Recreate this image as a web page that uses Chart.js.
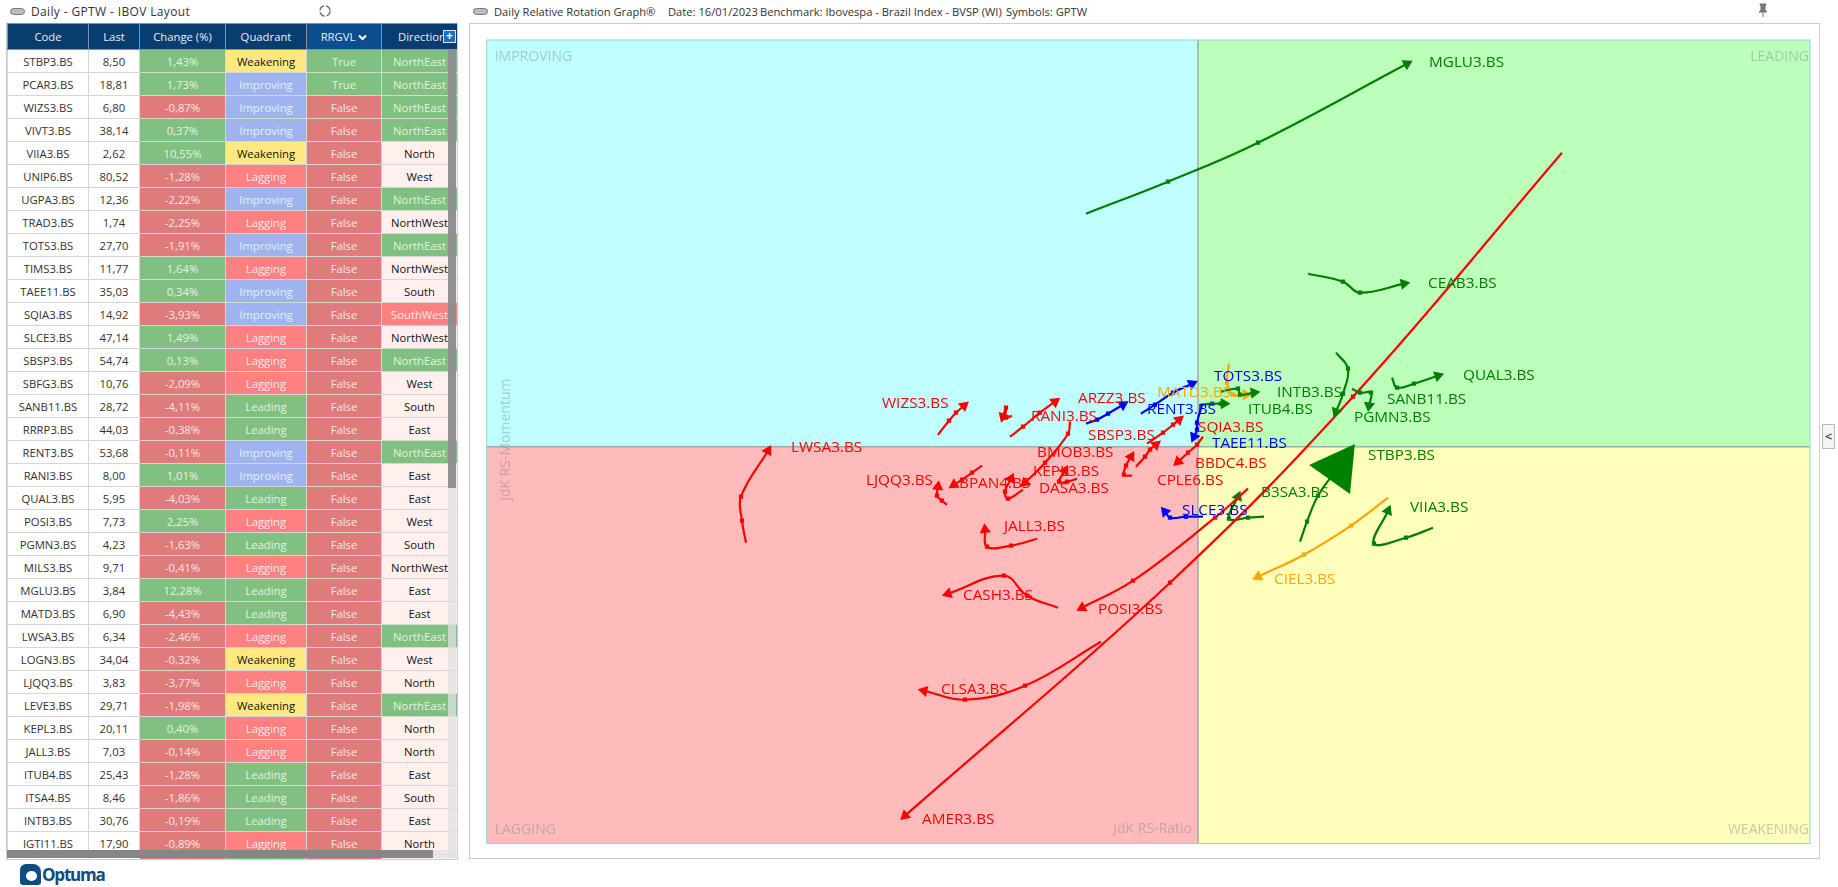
<!DOCTYPE html>
<html>
<head>
<meta charset="utf-8">
<title>Daily Relative Rotation Graph</title>
<script src="https://cdn.jsdelivr.net/npm/chart.js@4/dist/chart.umd.min.js"></script>
<style>
  html, body { margin: 0; padding: 0; background: #fff; width: 1838px; height: 887px; overflow: hidden; font-family: "Open Sans", sans-serif; }
  .title { position: absolute; top: 3px; font-size: 11.2px; line-height: 18px; color: #333; white-space: pre; }
  .chain { position: absolute; top: 8px; width: 13px; height: 5px; border: 1.5px solid #777; border-radius: 4px; background: #bbb; }
  #tableWrap { position: absolute; left: 6px; top: 23px; width: 450px; height: 836px; overflow: hidden; border-right: 1px solid #ccc; border-bottom: 1px solid #ccc; border-left: 1px solid #ccc; }
  table { border-collapse: collapse; table-layout: fixed; width: 450px; font-size: 11.3px; }
  th { background: #0a3d6f; color: #e8eef5; font-weight: 400; height: 25px; padding: 0; border: 1px solid #7f93a8; white-space: nowrap; overflow: hidden; }
  th.sorted { background: #0b4f8f; }
  td { height: 22px; padding: 0; text-align: center; border: 1px solid #d6d6d6; color: #333; white-space: nowrap; overflow: hidden; }
  td.up, td.Leading, td.True, td.NorthEast { background: #80c080; color: #e4f3e0; }
  td.down, td.False { background: #e07b7b; color: #fbe6e6; }
  td.Improving { background: #9fb4ee; color: #e8eefc; }
  td.Lagging, td.SouthWest { background: #ff8080; color: #ffeaea; }
  td.Weakening { background: #ffe880; color: #111; }
  td.calm { background: #fff0ee; color: #111; }
  #plusBtn { position: absolute; left: 443px; top: 30px; width: 11px; height: 11px; background: #1c6fc0; border: 1px solid #d8e6f5; color: #fff; font: 700 12px/10px "Open Sans"; text-align: center; }
  #vTrack { position: absolute; left: 448px; top: 50px; width: 8px; height: 808px; background: rgba(225,225,225,.75); }
  #vThumb { position: absolute; left: 448px; top: 50px; width: 8px; height: 438px; background: rgba(130,130,130,.85); }
  #hTrack { position: absolute; left: 7px; top: 850px; width: 449px; height: 8px; background: rgba(225,225,225,.75); }
  #hThumb { position: absolute; left: 7px; top: 850px; width: 426px; height: 8px; background: rgba(130,130,130,.95); }
  #logoMark { position: absolute; left: 20px; top: 864px; width: 21px; height: 21px; background: #0f4c81; border-radius: 6px 8px 3px 3px; }
  #logoMark:after { content: ""; position: absolute; left: 6px; top: 7px; width: 11px; height: 10px; background: #fff; border-radius: 50%; }
  #logoText { position: absolute; left: 42px; top: 863px; font-size: 17px; line-height: 24px; font-weight: 700; color: #0f4c81; letter-spacing: -1.2px; }
  #panel { position: absolute; left: 469px; top: 23px; width: 1351px; height: 836px; box-sizing: border-box; border: 1px solid #ccc; }
  #chartBox { position: absolute; left: 470px; top: 24px; width: 1349px; height: 834px; }
  #sideTab { position: absolute; left: 1822px; top: 424px; width: 11px; height: 23px; border: 1px solid #bbb; background: #f4f4f4; color: #555; font: 700 13px/22px "Open Sans"; text-align: center; }
</style>
</head>
<body>
<div class="chain" style="left:10px"></div>
<div class="title" style="left:31px;font-size:12px;letter-spacing:.36px">Daily - GPTW - IBOV Layout</div>
<svg style="position:absolute;left:318px;top:4px" width="14" height="14" viewBox="0 0 14 14"><circle cx="7" cy="7" r="5" fill="none" stroke="#777" stroke-width="1.5" stroke-dasharray="6 2"/></svg>
<div id="tableWrap"></div>
<div id="plusBtn">+</div>
<div id="vTrack"></div><div id="vThumb"></div>
<div id="hTrack"></div><div id="hThumb"></div>
<div id="logoMark"></div>
<div id="logoText">Optuma</div>

<div class="chain" style="left:473px"></div>
<div class="title" style="left:494px">Daily Relative Rotation Graph®</div>
<div class="title" style="left:668px">Date: 16/01/2023</div>
<div class="title" style="left:760px">Benchmark: Ibovespa - Brazil Index - BVSP (WI)</div>
<div class="title" style="left:1006px">Symbols: GPTW</div>
<svg style="position:absolute;left:1757px;top:3px" width="12" height="14" viewBox="0 0 12 14"><path d="M3 1h6v1l-1 1v4l2 2H2l2-2V3L3 2zM6 9v5" fill="#777" stroke="#777"/></svg>
<div id="panel"></div>
<div id="chartBox"><canvas id="rrgChart" width="1349" height="834"></canvas></div>
<div id="sideTab">&lt;</div>

<script>
// table columns
const codes = ["STBP3.BS","PCAR3.BS","WIZS3.BS","VIVT3.BS","VIIA3.BS","UNIP6.BS","UGPA3.BS","TRAD3.BS","TOTS3.BS","TIMS3.BS","TAEE11.BS","SQIA3.BS","SLCE3.BS","SBSP3.BS","SBFG3.BS","SANB11.BS","RRRP3.BS","RENT3.BS","RANI3.BS","QUAL3.BS","POSI3.BS","PGMN3.BS","MILS3.BS","MGLU3.BS","MATD3.BS","LWSA3.BS","LOGN3.BS","LJQQ3.BS","LEVE3.BS","KEPL3.BS","JALL3.BS","ITUB4.BS","ITSA4.BS","INTB3.BS","IGTI11.BS"];
const lasts = ["8,50","18,81","6,80","38,14","2,62","80,52","12,36","1,74","27,70","11,77","35,03","14,92","47,14","54,74","10,76","28,72","44,03","53,68","8,00","5,95","7,73","4,23","9,71","3,84","6,90","6,34","34,04","3,83","29,71","20,11","7,03","25,43","8,46","30,76","17,90"];
const changes = ["1,43%","1,73%","-0,87%","0,37%","10,55%","-1,28%","-2,22%","-2,25%","-1,91%","1,64%","0,34%","-3,93%","1,49%","0,13%","-2,09%","-4,11%","-0,38%","-0,11%","1,01%","-4,03%","2,25%","-1,63%","-0,41%","12,28%","-4,43%","-2,46%","-0,32%","-3,77%","-1,98%","0,40%","-0,14%","-1,28%","-1,86%","-0,19%","-0,89%"];
const quadrants = ["Weakening","Improving","Improving","Improving","Weakening","Lagging","Improving","Lagging","Improving","Lagging","Improving","Improving","Lagging","Lagging","Lagging","Leading","Leading","Improving","Improving","Leading","Lagging","Leading","Lagging","Leading","Leading","Lagging","Weakening","Lagging","Weakening","Lagging","Lagging","Leading","Leading","Leading","Lagging"];
const rrgvl = ["True","True","False","False","False","False","False","False","False","False","False","False","False","False","False","False","False","False","False","False","False","False","False","False","False","False","False","False","False","False","False","False","False","False","False"];
const directions = ["NorthEast","NorthEast","NorthEast","NorthEast","North","West","NorthEast","NorthWest","NorthEast","NorthWest","South","SouthWest","NorthWest","NorthEast","West","South","East","NorthEast","East","East","West","South","NorthWest","East","East","NorthEast","West","North","NorthEast","North","North","East","South","East","North"];

// rotation graph: one trail per symbol, oldest reading first, arrow on the last one
const symbols = ["MGLU3.BS","CEAB3.BS","QUAL3.BS","SANB11.BS","PGMN3.BS","AMER3.BS","POSI3.BS","CLSA3.BS","CASH3.BS","JALL3.BS","LWSA3.BS","WIZS3.BS","LJQQ3.BS","BPAN4.BS","CPLE6.BS","RANI3.BS","BMOB3.BS","DASA3.BS","KEPL3.BS","ARZZ3.BS","SBSP3.BS","BBDC4.BS","SQIA3.BS","RENT3.BS","TOTS3.BS","TAEE11.BS","ITUB4.BS","INTB3.BS","MATD3.BS","SLCE3.BS","B3SA3.BS","STBP3.BS","VIIA3.BS","CIEL3.BS"];
const groups = ["green","green","green","green","green","red","red","red","red","red","red","red","red","red","red","red","red","red","red","red","red","red","red","blue","blue","blue","green","green","orange","blue","green","green","green","orange"];
const rsRatio = [
  [98.88,99.70,100.60,102.09],[101.10,101.45,101.62,102.06],[101.94,101.99,102.16,102.40],[101.54,101.62,101.73,101.71],
  [101.38,101.50,101.45,101.38],[103.64,101.55,99.72,97.07],[100.50,100.17,99.35,98.84],[99.03,98.27,97.67,97.26],
  [98.60,98.29,98.06,97.50],[98.39,98.13,97.89,97.87],[95.48,95.44,95.43,95.70],[97.40,97.51,97.58,97.66],
  [97.49,97.44,97.39,97.40],[97.84,97.74,97.64,97.56],[98.14,98.08,98.08,98.05],[98.12,98.25,98.42,98.57],
  [98.72,98.70,98.47,98.27],[98.25,98.10,98.07,98.13],[98.79,98.69,98.61,98.67],[99.49,99.65,99.75,99.81],
  [99.38,99.47,99.52,99.58],[99.34,99.26,99.28,99.33],[100.05,99.99,99.90,99.80],[98.88,98.99,99.10,99.25],
  [99.43,99.57,99.75,99.94],[100.04,99.99,99.99,99.96],[100.02,100.14,100.23,100.26],[100.23,100.40,100.42,100.56],
  [100.31,100.29,100.35,100.48],[100.05,99.88,99.72,99.67],[100.66,100.50,100.31,100.40],[101.02,101.09,101.20,101.40],
  [102.35,102.08,101.76,101.90],[101.90,101.53,101.06,100.60]
];
const rsMomentum = [
  [102.33,102.65,103.04,103.83],[101.73,101.65,101.54,101.63],[100.69,100.59,100.63,100.71],[100.58,100.54,100.54,100.41],
  [100.94,100.78,100.53,100.35],[102.94,100.50,98.64,96.31],[99.58,99.29,98.66,98.39],[98.05,97.61,97.47,97.56],
  [98.39,98.51,98.71,98.53],[99.08,99.01,99.00,99.17],[99.04,99.26,99.50,99.96],[100.12,100.26,100.34,100.41],
  [99.42,99.46,99.51,99.60],[99.81,99.74,99.67,99.62],[100.31,100.29,100.39,100.30],[100.10,100.20,100.34,100.45],
  [100.25,100.13,99.84,99.64],[99.57,99.48,99.55,99.68],[99.68,99.65,99.65,99.76],[100.03,100.14,100.22,100.27],
  [99.80,99.90,99.97,100.02],[99.71,99.72,99.81,99.90],[100.10,100.02,99.94,99.85],[100.23,100.27,100.33,100.42],
  [100.33,100.42,100.54,100.63],[100.42,100.24,100.17,100.10],[100.42,100.43,100.43,100.43],[100.55,100.58,100.52,100.54],
  [100.83,100.64,100.52,100.52],[99.30,99.30,99.29,99.35],[99.30,99.29,99.28,99.50],[99.05,99.25,99.51,99.79],
  [99.19,99.09,99.03,99.36],[99.49,99.21,98.92,98.70]
];
// where each symbol's name sits, in graph units
const labelRatio = [102.31,102.30,102.65,101.89,101.56,97.24,99.00,97.43,97.65,98.06,95.93,96.84,96.68,97.61,99.59,98.33,98.39,98.41,98.35,98.80,98.90,99.97,100.00,99.49,100.16,100.14,100.50,100.79,99.59,99.84,100.63,101.70,102.12,100.76];
const labelMomentum = [103.85,101.64,100.72,100.48,100.30,96.28,98.38,97.58,98.52,99.21,100.00,100.44,99.67,99.64,99.67,100.31,99.95,99.59,99.76,100.49,100.12,99.84,100.20,100.38,100.71,100.04,100.38,100.55,100.55,99.37,99.55,99.92,99.40,98.68];

const groupColors = { green: "#008000", red: "#ff0000", blue: "#0000ff", orange: "#ffa500" };
const HIGHLIGHT = "STBP3.BS";

function buildTable() {
  const headers = ["Code", "Last", "Change (%)", "Quadrant", "RRGVL", "Direction"];
  const widths = [81, 51, 86, 81, 75, 76];
  let html = '<table><colgroup>' + widths.map(w => `<col style="width:${w}px">`).join('') + '</colgroup><thead><tr>';
  headers.forEach(h => {
    if (h === "RRGVL") html += '<th class="sorted">RRGVL <svg width="9" height="7" viewBox="0 0 9 7"><path d="M1 1.5l3.5 3.5L8 1.5" fill="none" stroke="#fff" stroke-width="2"/></svg></th>';
    else if (h === "Direction") html += '<th style="text-align:left;padding-left:16px">Direction</th>';
    else html += `<th>${h}</th>`;
  });
  html += '</tr></thead><tbody>';
  codes.forEach((code, i) => {
    const dirClass = (directions[i] === "NorthEast" || directions[i] === "SouthWest") ? directions[i] : "calm";
    html += `<tr><td>${code}</td><td>${lasts[i]}</td>`
      + `<td class="${changes[i].startsWith('-') ? 'down' : 'up'}">${changes[i]}</td>`
      + `<td class="${quadrants[i]}">${quadrants[i]}</td>`
      + `<td class="${rrgvl[i]}">${rrgvl[i]}</td>`
      + `<td class="${dirClass}">${directions[i]}</td></tr>`;
  });
  // next row is cut off by the scroll area
  html += '<tr><td></td><td></td><td class="down"></td><td class="Leading"></td><td class="False"></td><td class="calm"></td></tr>';
  html += '</tbody></table>';
  document.getElementById('tableWrap').innerHTML = html;
}

const quadrantPlugin = {
  id: 'quadrants',
  beforeDatasetsDraw(chart) {
    const { ctx, chartArea: a, scales: { x, y } } = chart;
    const cx = x.getPixelForValue(100), cy = y.getPixelForValue(100);
    ctx.save();
    ctx.fillStyle = '#bfffff'; ctx.fillRect(a.left, a.top, cx - a.left, cy - a.top);
    ctx.fillStyle = '#bbffbb'; ctx.fillRect(cx, a.top, a.right - cx, cy - a.top);
    ctx.fillStyle = '#ffbbbb'; ctx.fillRect(a.left, cy, cx - a.left, a.bottom - cy);
    ctx.fillStyle = '#ffffbb'; ctx.fillRect(cx, cy, a.right - cx, a.bottom - cy);
    ctx.strokeStyle = '#a4aaa8';
    ctx.lineWidth = 1.5;
    ctx.beginPath();
    ctx.moveTo(cx, a.top); ctx.lineTo(cx, a.bottom);
    ctx.moveTo(a.left, cy); ctx.lineTo(a.right, cy);
    ctx.stroke();
    ctx.strokeStyle = '#8fd8d8';
    ctx.lineWidth = 1;
    ctx.strokeRect(a.left, a.top, a.right - a.left, a.bottom - a.top);

    ctx.font = '14px "Open Sans"';
    ctx.fillStyle = 'rgba(120,130,130,0.42)';
    ctx.textBaseline = 'middle';
    ctx.textAlign = 'left';
    ctx.fillText('IMPROVING', a.left + 8, a.top + 17);
    ctx.fillText('LAGGING', a.left + 8, a.bottom - 13);
    ctx.textAlign = 'right';
    ctx.fillText('LEADING', a.right - 1, a.top + 17);
    ctx.fillText('WEAKENING', a.right - 1, a.bottom - 13);
    ctx.fillText('JdK RS-Ratio', cx - 6, a.bottom - 14);
    ctx.translate(a.left + 19, cy - 7);
    ctx.rotate(-Math.PI / 2);
    ctx.textAlign = 'center';
    ctx.fillText('JdK RS-Momentum', 0, 0);
    ctx.restore();
  }
};

const labelPlugin = {
  id: 'symbolLabels',
  afterDatasetsDraw(chart) {
    const { ctx, scales: { x, y } } = chart;
    ctx.save();
    ctx.font = '15.3px "Open Sans"';
    ctx.textAlign = 'left';
    ctx.textBaseline = 'middle';
    symbols.forEach((name, i) => {
      ctx.fillStyle = groupColors[groups[i]];
      ctx.fillText(name, x.getPixelForValue(labelRatio[i]), y.getPixelForValue(labelMomentum[i]) + 1);
    });
    ctx.restore();
  }
};

function arrowAngle(xs, ys) {
  const n = xs.length - 1;
  return Math.atan2(xs[n] - xs[n - 1], ys[n] - ys[n - 1]) * 180 / Math.PI;
}

function renderChart() {
  const datasets = symbols.map((name, i) => {
    const color = groupColors[groups[i]];
    const last = rsRatio[i].length - 1;
    return {
      label: name,
      data: rsRatio[i].map((v, k) => ({ x: v, y: rsMomentum[i][k] })),
      showLine: true,
      borderColor: color,
      backgroundColor: color,
      borderWidth: 2.2,
      tension: 0.4,
      pointBorderWidth: 0,
      pointRadius: ctx => ctx.dataIndex === 0 ? 0 : ctx.dataIndex === last ? (name === HIGHLIGHT ? 29 : 6.5) : 3,
      pointStyle: ctx => ctx.dataIndex === last ? 'triangle' : 'rect',
      pointRotation: ctx => ctx.dataIndex === last ? arrowAngle(rsRatio[i], rsMomentum[i]) : 0
    };
  });

  new Chart(document.getElementById('rrgChart').getContext('2d'), {
    type: 'scatter',
    data: { datasets },
    plugins: [quadrantPlugin, labelPlugin],
    options: {
      responsive: false,
      animation: false,
      layout: { autoPadding: false, padding: { left: 16.7, right: 9, top: 16, bottom: 14.5 } },
      scales: {
        x: { type: 'linear', display: false, min: 92.887, max: 106.12 },
        y: { type: 'linear', display: false, min: 96.032, max: 104.067 }
      },
      plugins: { legend: { display: false }, tooltip: { enabled: false } }
    }
  });
}

buildTable();
renderChart();
</script>
</body>
</html>
